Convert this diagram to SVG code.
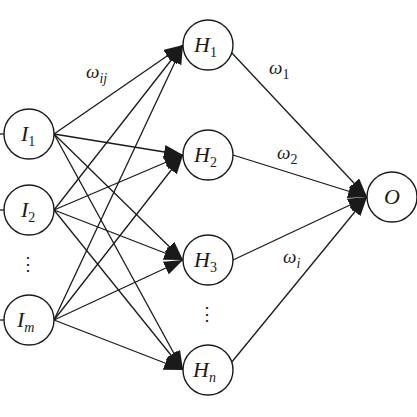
<svg xmlns="http://www.w3.org/2000/svg" width="417" height="417" viewBox="0 0 417 417">
<style>
.n{fill:#fff;stroke:#1a1a1a;stroke-width:1.4}
.e{stroke:#1a1a1a;stroke-width:1.3;fill:none;marker-end:url(#ah)}
.s{stroke:#1a1a1a;stroke-width:1.3}
text{font-family:"Liberation Serif","DejaVu Serif",serif;fill:#1a1a1a}
.v{font-style:italic;font-size:22px}
.sub{font-style:normal;font-size:14px}
.isub{font-style:italic;font-size:14px}
.w{font-style:italic;font-size:19px}
.d{font-size:18px}
</style>
<defs>
<marker id="ah" markerUnits="userSpaceOnUse" markerWidth="20" markerHeight="14" refX="19" refY="7" orient="auto">
<path d="M0,0 L19,7 L0,14 z" fill="#1a1a1a"/>
</marker>
</defs>
<g id="connectors">
<line class="e" x1="54" y1="134" x2="183" y2="45"/>
<line class="e" x1="54" y1="134" x2="183" y2="155"/>
<line class="e" x1="54" y1="134" x2="183" y2="260"/>
<line class="e" x1="54" y1="134" x2="183" y2="370"/>
<line class="e" x1="54" y1="210" x2="183" y2="45"/>
<line class="e" x1="54" y1="210" x2="183" y2="155"/>
<line class="e" x1="54" y1="210" x2="183" y2="260"/>
<line class="e" x1="54" y1="210" x2="183" y2="370"/>
<line class="e" x1="54" y1="320" x2="183" y2="45"/>
<line class="e" x1="54" y1="320" x2="183" y2="155"/>
<line class="e" x1="54" y1="320" x2="183" y2="260"/>
<line class="e" x1="54" y1="320" x2="183" y2="370"/>
<line class="e" x1="231" y1="52" x2="367" y2="197"/>
<line class="e" x1="233" y1="155" x2="367" y2="197"/>
<line class="e" x1="233" y1="260" x2="367" y2="197"/>
<line class="e" x1="231" y1="363" x2="367" y2="197"/>
<line class="s" x1="0" y1="134" x2="4" y2="134"/>
<line class="s" x1="0" y1="210" x2="4" y2="210"/>
<line class="s" x1="0" y1="320" x2="4" y2="320"/>
</g>
<g id="I1"><circle class="n" cx="29" cy="134" r="25"/><text x="21" y="141" class="v">I<tspan class="sub" dy="5">1</tspan></text></g>
<g id="I2"><circle class="n" cx="29" cy="210" r="25"/><text x="21" y="217" class="v">I<tspan class="sub" dy="5">2</tspan></text></g>
<g id="Im"><circle class="n" cx="29" cy="320" r="25"/><text x="17" y="327" class="v">I<tspan class="isub" dy="5">m</tspan></text></g>
<g id="H1"><circle class="n" cx="208" cy="45" r="25"/><text x="194" y="52" class="v">H<tspan class="sub" dy="5">1</tspan></text></g>
<g id="H2"><circle class="n" cx="208" cy="155" r="25"/><text x="194" y="162" class="v">H<tspan class="sub" dy="5">2</tspan></text></g>
<g id="H3"><circle class="n" cx="208" cy="260" r="25"/><text x="194" y="267" class="v">H<tspan class="sub" dy="5">3</tspan></text></g>
<g id="Hn"><circle class="n" cx="208" cy="370" r="25"/><text x="193" y="377" class="v">H<tspan class="isub" dy="5">n</tspan></text></g>
<g id="O"><circle class="n" cx="392" cy="197" r="25"/><text x="392" y="204" class="v" text-anchor="middle">O</text></g>
<g id="labels">
<text x="86" y="78" class="w">ω<tspan class="isub" dy="5">ij</tspan></text>
<text x="269" y="74" class="w">ω<tspan class="sub" dy="5">1</tspan></text>
<text x="277" y="159" class="w">ω<tspan class="sub" dy="5">2</tspan></text>
<text x="283" y="263" class="w">ω<tspan class="isub" dy="5">i</tspan></text>
<text x="28" y="270" class="d" text-anchor="middle">⋮</text>
<text x="207" y="320" class="d" text-anchor="middle">⋮</text>
</g>
</svg>
